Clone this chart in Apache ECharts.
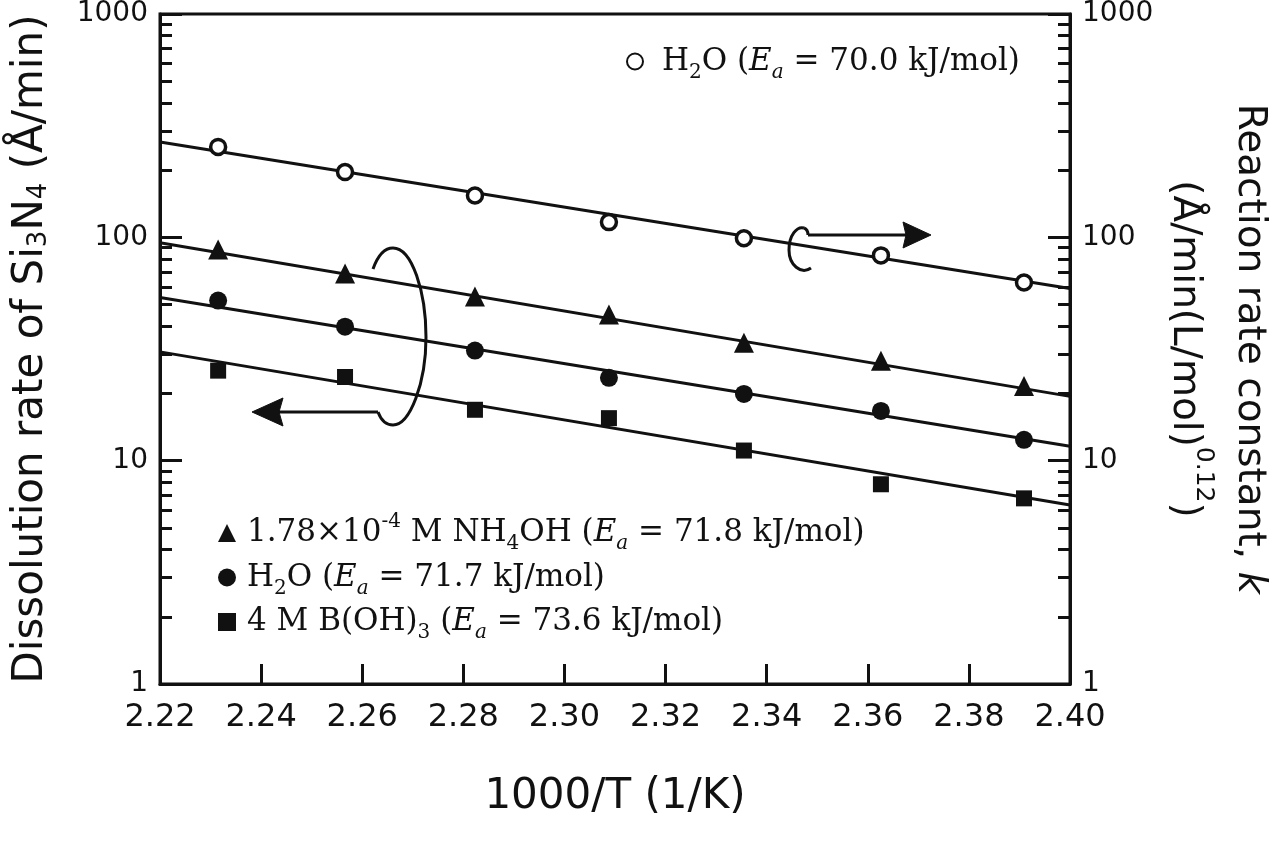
<!DOCTYPE html>
<html><head><meta charset="utf-8">
<script src="https://cdn.jsdelivr.net/npm/echarts@6/dist/echarts.min.js"></script>
<style>html,body{margin:0;padding:0;background:#fff}#c{width:1280px;height:848px}</style>
</head><body><div id="c"></div>
<script>
// ---- data ----
const xValues  = [2.2315, 2.2566, 2.2823, 2.3088, 2.3355, 2.3626, 2.3909];
const kH2O     = [254, 196, 154, 117, 99, 83, 62.8];      // right axis, open circles
const rNH4OH   = [88.3, 68.9, 54.3, 45.1, 33.7, 28.0, 21.6];
const rH2O     = [52.1, 39.8, 31.1, 23.5, 19.9, 16.7, 12.4];
const rBOH3    = [25.3, 23.7, 16.9, 15.5, 11.1, 7.84, 6.78];
const fitX      = [2.22, 2.40];
const fitKH2O   = [267, 59.0];
const fitNH4OH  = [94.5, 19.4];
const fitH2O    = [53.8, 11.6];
const fitBOH3   = [30.7, 6.33];
const xTickLabels = ['2.22','2.24','2.26','2.28','2.30','2.32','2.34','2.36','2.38','2.40'];
const yMajorTicks = [1, 10, 100, 1000];
const yMinorTicks = [2,3,4,5,6,7,8,9,20,30,40,50,60,70,80,90,200,300,400,500,600,700,800,900];

const INK = '#111';
const SANS = 'DejaVu Sans';
const SERIF = 'DejaVu Serif';

const pairs = (xs, ys) => xs.map((x, i) => [x, ys[i]]);

const legendText = {
  'H2O k': '{n|H}{sub|2}{n|O (}{i|E}{isub|a}{n| = 70.0 kJ/mol)}',
  'NH4OH': '{n|1.78×10}{sup|-4}{n| M NH}{sub|4}{n|OH (}{i|E}{isub|a}{n| = 71.8 kJ/mol)}',
  'H2O':   '{n|H}{sub|2}{n|O (}{i|E}{isub|a}{n| = 71.7 kJ/mol)}',
  'B(OH)3':'{n|4 M B(OH)}{sub|3}{n| (}{i|E}{isub|a}{n| = 73.6 kJ/mol)}'
};
const FS = 31, LH = 42, SFS = 20;
const legendRich = {
  n:    {fontFamily: SERIF, fontSize: FS, color: INK, lineHeight: LH, verticalAlign: 'middle'},
  i:    {fontFamily: SERIF, fontSize: FS, color: INK, fontStyle: 'italic', lineHeight: LH, verticalAlign: 'middle'},
  sub:  {fontFamily: SERIF, fontSize: SFS, color: INK, lineHeight: SFS, verticalAlign: 'bottom'},
  isub: {fontFamily: SERIF, fontSize: SFS, color: INK, fontStyle: 'italic', lineHeight: SFS, verticalAlign: 'bottom'},
  sup:  {fontFamily: SERIF, fontSize: SFS, color: INK, lineHeight: SFS, verticalAlign: 'top'}
};
const legendBase = {
  selectedMode: false,
  formatter: name => legendText[name],
  textStyle: {fontFamily: SERIF, fontSize: FS, color: INK, rich: legendRich}
};

const majorTick = {show: true, inside: true, length: 22, lineStyle: {color: INK, width: 3}, customValues: yMajorTicks};
const minorTick = {show: true, inside: true, length: 12, lineStyle: {color: INK, width: 3}, customValues: yMinorTicks};
const yLabel = {fontFamily: SANS, fontSize: 28, color: INK, margin: 12, formatter: v => String(Math.round(v))};

function logAxis(extra) {
  return Object.assign({
    type: 'log', logBase: 10, min: 1, max: 1000,
    splitLine: {show: false},
    axisLine: {show: true, onZero: false, lineStyle: {color: INK, width: 3}}
  }, extra);
}

const option = {
  backgroundColor: '#fff',
  animation: false,
  grid: {left: 160, right: 210, top: 14, bottom: 164, show: true, borderColor: INK, borderWidth: 3, outerBoundsMode: 'none', containLabel: false},
  xAxis: [{
    type: 'value', min: 2.22, max: 2.40, interval: 0.02,
    splitLine: {show: false},
    axisLine: {show: true, onZero: false, lineStyle: {color: INK, width: 3}},
    axisTick: {show: true, inside: true, length: 20, lineStyle: {color: INK, width: 3}},
    axisLabel: {fontFamily: SANS, fontSize: 32, color: INK, margin: 18, showMinLabel: true, showMaxLabel: true,
      formatter: v => { const s = v.toFixed(2); return xTickLabels.includes(s) ? s : ''; }},
    name: '1000/T (1/K)', nameLocation: 'middle', nameGap: 92,
    nameTextStyle: {fontFamily: SANS, fontSize: 42, color: INK}
  }],
  yAxis: [
    logAxis({
      position: 'left', axisTick: majorTick, axisLabel: yLabel,
      name: 'Dissolution rate of Si{s|3}N{s|4} (Å/min)', nameLocation: 'middle', nameGap: 108, nameRotate: 90,
      nameTextStyle: {fontFamily: SANS, fontSize: 42, color: INK,
        rich: {s: {fontFamily: SANS, fontSize: 26, color: INK, verticalAlign: 'bottom', lineHeight: 26}}}
    }),
    logAxis({
      position: 'right', axisTick: majorTick, axisLabel: yLabel,
      name: '{n|Reaction rate constant, }{i|k}\n{n|(Å/min(L/mol)}{sup|0.12}{n|)}', nameLocation: 'middle', nameGap: 69, nameRotate: -90,
      nameTextStyle: {fontFamily: SANS, fontSize: 39, color: INK,
        rich: {
          n: {fontFamily: SANS, fontSize: 39, color: INK, lineHeight: 65, verticalAlign: 'middle'},
          i: {fontFamily: SANS, fontSize: 39, color: INK, fontStyle: 'italic', lineHeight: 65, verticalAlign: 'middle'},
          sup: {fontFamily: SANS, fontSize: 25, color: INK, lineHeight: 25, verticalAlign: 'top'}
        }}
    }),
    logAxis({position: 'left', axisLine: {show: false, onZero: false}, axisTick: minorTick, axisLabel: {show: false}}),
    logAxis({position: 'right', axisLine: {show: false, onZero: false}, axisTick: minorTick, axisLabel: {show: false}})
  ],
  legend: [
    Object.assign({data: ['H2O k'], left: 621, top: 41, itemWidth: 16, itemHeight: 16}, legendBase,
      {textStyle: Object.assign({}, legendBase.textStyle, {padding: [0, 0, 0, 14]})}),
    Object.assign({data: ['NH4OH', 'H2O', 'B(OH)3'], orient: 'vertical', left: 213, top: 507, itemGap: 8, itemWidth: 18, itemHeight: 18}, legendBase,
      {textStyle: Object.assign({}, legendBase.textStyle, {padding: [0, 0, 0, 6]})})
  ],
  series: [
    {name: 'fit k', type: 'line', yAxisIndex: 1, data: pairs(fitX, fitKH2O), showSymbol: false, lineStyle: {color: INK, width: 3, opacity: 1}, z: 2},
    {name: 'fit NH4OH', type: 'line', data: pairs(fitX, fitNH4OH), showSymbol: false, lineStyle: {color: INK, width: 3, opacity: 1}, z: 2},
    {name: 'fit H2O', type: 'line', data: pairs(fitX, fitH2O), showSymbol: false, lineStyle: {color: INK, width: 3, opacity: 1}, z: 2},
    {name: 'fit B(OH)3', type: 'line', data: pairs(fitX, fitBOH3), showSymbol: false, lineStyle: {color: INK, width: 3, opacity: 1}, z: 2},
    {name: 'H2O k', type: 'scatter', yAxisIndex: 1, data: pairs(xValues, kH2O), symbol: 'circle', symbolSize: 15,
      itemStyle: {color: '#fff', borderColor: INK, borderWidth: 3.5, opacity: 1}, z: 5},
    {name: 'NH4OH', type: 'scatter', data: pairs(xValues, rNH4OH), symbol: 'triangle', symbolSize: 20, itemStyle: {color: INK, opacity: 1}, z: 5},
    {name: 'H2O', type: 'scatter', data: pairs(xValues, rH2O), symbol: 'circle', symbolSize: 18, itemStyle: {color: INK, opacity: 1}, z: 5},
    {name: 'B(OH)3', type: 'scatter', data: pairs(xValues, rBOH3), symbol: 'rect', symbolSize: 16, itemStyle: {color: INK, opacity: 1}, z: 5}
  ]
};

const chart = echarts.init(document.getElementById('c'));
chart.setOption(option);

// ---- decorative curved arrows, anchored in data space ----
function P(px, py) {
  const x = 2.22 + (px - 160) * 0.18 / 910;
  const y = Math.pow(10, (684 - py) / 223.333);
  return chart.convertToPixel({xAxisIndex: 0, yAxisIndex: 0}, [x, y]);
}
function bez(a, c1, c2, b) {
  const A = P(a[0], a[1]), C1 = P(c1[0], c1[1]), C2 = P(c2[0], c2[1]), B = P(b[0], b[1]);
  return {type: 'bezierCurve', shape: {x1: A[0], y1: A[1], cpx1: C1[0], cpy1: C1[1], cpx2: C2[0], cpy2: C2[1], x2: B[0], y2: B[1]},
    style: {stroke: INK, lineWidth: 3, fill: null}, z: 10};
}
function seg(a, b) {
  const A = P(a[0], a[1]), B = P(b[0], b[1]);
  return {type: 'line', shape: {x1: A[0], y1: A[1], x2: B[0], y2: B[1]}, style: {stroke: INK, lineWidth: 3}, z: 10};
}
function head(pts) {
  return {type: 'polygon', shape: {points: pts.map(p => P(p[0], p[1]))}, style: {fill: INK, stroke: INK, lineWidth: 1}, z: 10};
}
const graphics = [
  bez([373, 269], [378, 255], [385, 248], [393, 248]),
  bez([393, 248], [412, 248], [426, 292], [426, 337]),
  bez([426, 337], [426, 383], [410, 425], [393, 425]),
  bez([393, 425], [386, 425], [381, 420], [378, 412]),
  seg([378, 412], [279, 412]),
  head([[252, 412], [283, 398], [279, 412], [283, 426]]),
  bez([811, 268], [801, 275], [789, 265], [789, 250]),
  bez([789, 250], [789, 235], [797, 226], [804, 228]),
  bez([804, 228], [807, 229], [808, 232], [808, 235]),
  seg([808, 235], [906, 235]),
  head([[931, 235], [903, 222], [906, 235], [903, 248]])
];
chart.setOption({graphic: graphics});
</script>
</body></html>
